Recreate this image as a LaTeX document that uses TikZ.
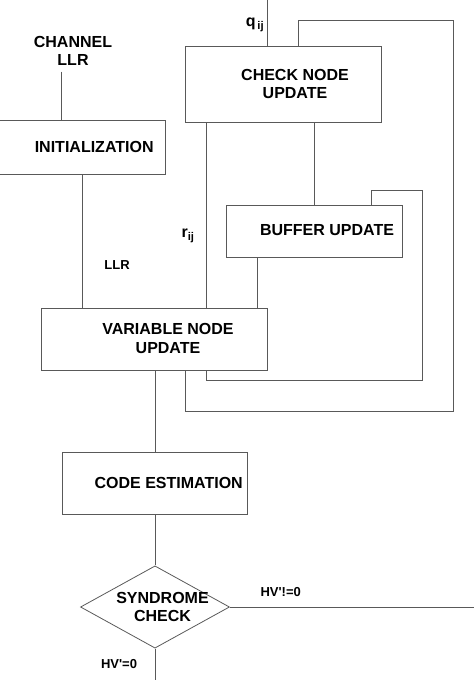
\documentclass[tikz,border=0pt]{standalone}
\usepackage{fontspec}
\setmainfont{Liberation Sans}
\usepackage{tikz}
\usetikzlibrary{shapes.geometric}
\tikzset{
  box/.style={draw=black!65, line width=0.8pt, rectangle, inner sep=0pt},
  wire/.style={draw=black!65, line width=0.8pt},
  boxtext/.style={align=center, inner sep=0pt, font=\fontsize{16}{18.4}\selectfont\bfseries},
  lbl/.style={inner sep=0pt, font=\fontsize{13}{15}\selectfont\bfseries}
}

\begin{document}
\begin{tikzpicture}[x=1pt,y=-1pt]
  \useasboundingbox (0,0) rectangle (474,680);
  \node[box, minimum width=195.3pt, minimum height=76.7pt] (cnu) at (283.4,84.4) {};
  \node[boxtext] (cnu-txt) at (295,84.2) {CHECK NODE\\UPDATE};
  \node[box, minimum width=175.6pt, minimum height=51.6pt] (buf) at (314.5,231.5) {};
  \node[boxtext] (buf-txt) at (327,230.5) {BUFFER UPDATE};
  \node[box, minimum width=167pt, minimum height=53.6pt] (init) at (81.5,147.5) {};
  \node[boxtext] (init-txt) at (94.2,146.7) {INITIALIZATION};
  \node[boxtext] (chan) at (73,51) {CHANNEL\\LLR};
  \node[box, minimum width=226pt, minimum height=61.7pt] (vnu) at (154.7,339.2) {};
  \node[boxtext] (vnu-txt) at (168,338.5) {VARIABLE NODE\\UPDATE};
  \node[box, minimum width=185.7pt, minimum height=62.4pt] (est) at (155,483.5) {};
  \node[boxtext] (est-txt) at (168.7,483.3) {CODE ESTIMATION};
  \node[box, diamond, minimum width=149pt, minimum height=82.3pt] (syn) at (155,607) {};
  \node[boxtext] (syn-txt) at (162.5,607.2) {SYNDROME\\CHECK};

  \coordinate (qin) at (267.7,0);
  \coordinate (chan-end) at (61.7,71.7);
  \coordinate (outer-ne) at (453.3,20.3);
  \coordinate (outer-sw) at (185.7,411.7);
  \coordinate (inner-se) at (422.3,380);
  \coordinate (inner-nw) at (371,190.7);
  \coordinate (nz-end) at (474,607);
  \coordinate (z-end) at (155,680);

  \draw[wire] (qin) -- (qin |- cnu.north);
  \draw[wire] (cnu.north -| 298.3,0) |- (outer-ne) |- (outer-sw) -- (outer-sw |- vnu.south);
  \draw[wire] (cnu.south -| 206.7,0) -- (vnu.north -| 206.7,0);
  \draw[wire] (cnu.south -| buf.north) -- (buf.north);
  \draw[wire] (buf.south -| 257.7,0) -- (vnu.north -| 257.7,0);
  \draw[wire] (vnu.south -| 206.7,0) |- (inner-se) |- (inner-nw) -- (inner-nw |- buf.north);
  \draw[wire] (chan-end) -- (chan-end |- init.north);
  \draw[wire] (init.south -| 82.7,0) -- (vnu.north -| 82.7,0);
  \draw[wire] (vnu.south -| est.north) -- (est.north);
  \draw[wire] (est.south) -- (syn.north);
  \draw[wire] (syn.east) -- (nz-end);
  \draw[wire] (syn.south) -- (z-end);

  \node[lbl, font=\fontsize{16}{18}\selectfont\bfseries] (q-lbl) at (255,25) {q\textsubscript{\,ij}};
  \node[lbl, font=\fontsize{16}{18}\selectfont\bfseries] (r-lbl) at (188,236) {r\textsubscript{ij}};
  \node[lbl] (llr-lbl) at (117,265) {LLR};
  \node[lbl] (nz-lbl) at (280.7,592.3) {HV\textquotesingle!=0};
  \node[lbl] (z-lbl) at (119,664) {HV\textquotesingle=0};
\end{tikzpicture}
\end{document}
